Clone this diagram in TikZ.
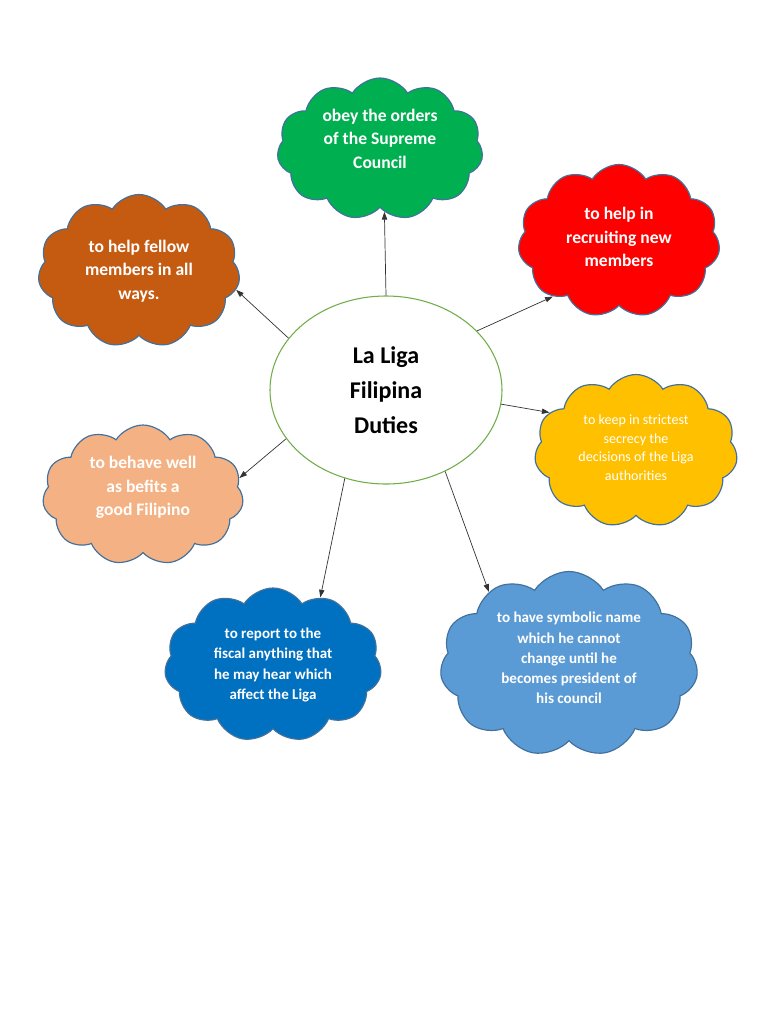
\documentclass[tikz,border=0pt]{standalone}
\usepackage{fontspec}
\setmainfont{Carlito}
\usepackage{xcolor}
\usepackage{tikz}
\usetikzlibrary{
  arrows.meta,
  shapes.geometric,
  shapes.symbols
}
\definecolor{LigaEdge}{HTML}{41719C}
\definecolor{LigaRing}{HTML}{70AD47}
\definecolor{LigaGreen}{HTML}{00B050}
\definecolor{LigaRed}{HTML}{FF0000}
\definecolor{LigaBrown}{HTML}{C55A11}
\definecolor{LigaGold}{HTML}{FFC000}
\definecolor{LigaPeach}{HTML}{F4B183}
\definecolor{LigaBlue}{HTML}{0070C0}
\definecolor{LigaSky}{HTML}{5B9BD5}

\tikzset{
  duty/.style={cloud, cloud puffs=11, cloud puff arc=115, cloud ignores aspect,
    draw=LigaEdge, line width=1pt, inner sep=0pt, align=center, text=white,
    font=\bfseries\fontsize{15}{20}\selectfont},
  link/.style={draw=black!80, line width=0.6pt, -{Triangle[length=6.5pt,width=4.5pt]}}
}

\begin{document}
\begin{tikzpicture}[x=0.3mm,y=-0.3mm]
    \fill[white] (0,0) rectangle (768,1024);
    % centre
    \node[ellipse, draw=LigaRing, line width=0.9pt, minimum width=69.6mm, minimum height=56.4mm,
      align=center, font=\bfseries\fontsize{20.5}{30}\selectfont] (liga) at (386,390)
      {La Liga\\Filipina\\Duties};
    % duties
    \node[duty, fill=LigaGreen, minimum width=61.8mm, minimum height=42.6mm, text depth=18pt] (obey) at (380,149)
      {obey the orders\\of the Supreme\\Council};
    \node[duty, fill=LigaRed, minimum width=60.6mm, minimum height=45.9mm, text depth=7pt] (recruit) at (619,241)
      {to help in\\recruiting new\\members};
    \node[duty, fill=LigaBrown, minimum width=60.6mm, minimum height=45.9mm] (fellow) at (139,271)
      {to help fellow\\members in all\\ways.};
    \node[duty, fill=LigaGold, minimum width=60.9mm, minimum height=45.9mm,
      font=\fontsize{12}{16}\selectfont, text depth=6pt] (secret) at (636,451)
      {to keep in strictest\\secrecy the\\decisions of the Liga\\authorities};
    \node[duty, fill=LigaPeach, minimum width=60.3mm, minimum height=42mm, text depth=15pt] (behave) at (143,495)
      {to behave well\\as befits a\\good Filipino};
    \node[duty, fill=LigaBlue, minimum width=65.1mm, minimum height=46.2mm,
      font=\bfseries\fontsize{12.8}{17.3}\selectfont] (report) at (273,665)
      {to report to the\\fiscal anything that\\he may hear which\\affect the Liga};
    \node[duty, fill=LigaSky, minimum width=77.4mm, minimum height=55.5mm,
      font=\bfseries\fontsize{12.9}{17.3}\selectfont, text depth=10pt] (name) at (569,664)
      {to have symbolic name\\which he cannot\\change until he\\becomes president of\\his council};
    % arrows
    \draw[link] (liga.90) -- (obey.274);
    \draw[link] (liga.33) -- (recruit.220);
    \draw[link] (liga.152) -- (fellow.349);
    \draw[link] (liga.353) -- (secret.156);
    \draw[link] (liga.206) -- (behave.10);
    \draw[link] (liga.245) -- (report.55);
    \draw[link] (liga.306) -- (name.138);
\end{tikzpicture}
\end{document}
